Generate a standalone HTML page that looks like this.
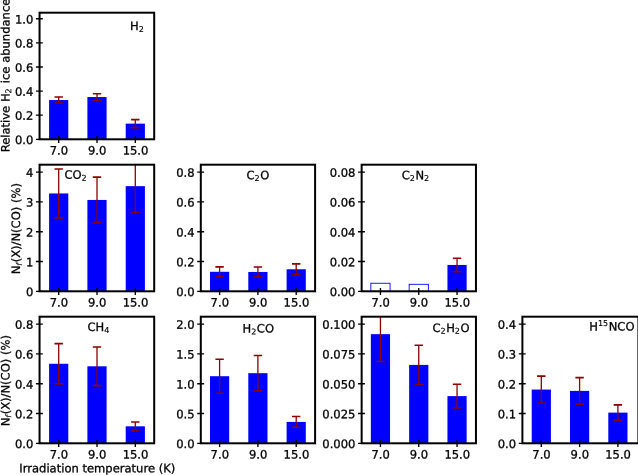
<!DOCTYPE html>
<html><head><meta charset="utf-8"><title>Ice abundances vs irradiation temperature</title>
<style>html,body{margin:0;padding:0;background:#fff}svg{display:block}text{stroke:#000;stroke-width:0.3px}</style></head>
<body>
<svg width="638" height="475" viewBox="0 0 638 475" font-family="'DejaVu Sans', 'Liberation Sans', sans-serif" font-size="11.55" fill="#000">
<rect width="638" height="475" fill="#fff"/>
<g id="ax0">
<clipPath id="cp0"><rect x="39.55" y="12.7" width="114.65" height="126.6"/></clipPath>
<g clip-path="url(#cp0)">
<rect x="49.10" y="100.05" width="19.2" height="39.25" fill="#0000ff"/>
<rect x="87.40" y="97.04" width="19.2" height="42.26" fill="#0000ff"/>
<rect x="125.70" y="123.63" width="19.2" height="15.67" fill="#0000ff"/>
<path d="M58.70 97.04V103.07" stroke="#8b0000" stroke-width="1.3" fill="none"/>
<path d="M54.50 97.04h8.4M54.50 103.07h8.4" stroke="#8b0000" stroke-width="1.6" fill="none"/>
<path d="M97.00 93.78V100.30" stroke="#8b0000" stroke-width="1.3" fill="none"/>
<path d="M92.80 93.78h8.4M92.80 100.30h8.4" stroke="#8b0000" stroke-width="1.6" fill="none"/>
<path d="M135.30 119.59V127.66" stroke="#8b0000" stroke-width="1.3" fill="none"/>
<path d="M131.10 119.59h8.4M131.10 127.66h8.4" stroke="#8b0000" stroke-width="1.6" fill="none"/>
</g>
<path d="M58.70 136.00V142.90M97.00 136.00V142.90M135.30 136.00V142.90M35.95 139.30H42.85M35.95 115.19H42.85M35.95 91.07H42.85M35.95 66.96H42.85M35.95 42.84H42.85M35.95 18.73H42.85" stroke="#000" stroke-width="1.35" fill="none"/>
<rect x="39.55" y="12.7" width="114.65" height="126.6" fill="none" stroke="#000" stroke-width="2.0"/>
<text x="58.90" y="154.40" text-anchor="middle" transform="rotate(0.03 58.90 154.40)">7.0</text>
<text x="97.20" y="154.40" text-anchor="middle" transform="rotate(0.03 97.20 154.40)">9.0</text>
<text x="135.50" y="154.40" text-anchor="middle" transform="rotate(0.03 135.50 154.40)">15.0</text>
<text x="33.25" y="144.00" text-anchor="end" transform="rotate(0.03 33.25 144.00)">0.0</text>
<text x="33.25" y="119.89" text-anchor="end" transform="rotate(0.03 33.25 119.89)">0.2</text>
<text x="33.25" y="95.77" text-anchor="end" transform="rotate(0.03 33.25 95.77)">0.4</text>
<text x="33.25" y="71.66" text-anchor="end" transform="rotate(0.03 33.25 71.66)">0.6</text>
<text x="33.25" y="47.54" text-anchor="end" transform="rotate(0.03 33.25 47.54)">0.8</text>
<text x="33.25" y="23.43" text-anchor="end" transform="rotate(0.03 33.25 23.43)">1.0</text>
<text x="136.90" y="30.10" text-anchor="middle" transform="rotate(0.03 136.90 30.10)"><tspan dx="0" dy="0.00" font-size="11.55">H</tspan><tspan dx="0" dy="1.85" font-size="8.09" style="stroke-width:0.12px">2</tspan></text>
</g>
<g id="ax1">
<clipPath id="cp1"><rect x="39.55" y="164.7" width="114.65" height="126.6"/></clipPath>
<g clip-path="url(#cp1)">
<rect x="49.10" y="193.45" width="19.2" height="97.85" fill="#0000ff"/>
<rect x="87.40" y="199.94" width="19.2" height="91.36" fill="#0000ff"/>
<rect x="125.70" y="186.15" width="19.2" height="105.15" fill="#0000ff"/>
<path d="M58.70 169.02V217.87" stroke="#8b0000" stroke-width="1.3" fill="none"/>
<path d="M54.50 169.02h8.4M54.50 217.87h8.4" stroke="#8b0000" stroke-width="1.6" fill="none"/>
<path d="M97.00 177.15V222.73" stroke="#8b0000" stroke-width="1.3" fill="none"/>
<path d="M92.80 177.15h8.4M92.80 222.73h8.4" stroke="#8b0000" stroke-width="1.6" fill="none"/>
<path d="M135.30 159.64V212.66" stroke="#8b0000" stroke-width="1.3" fill="none"/>
<path d="M131.10 159.64h8.4M131.10 212.66h8.4" stroke="#8b0000" stroke-width="1.6" fill="none"/>
</g>
<path d="M58.70 288.00V294.90M97.00 288.00V294.90M135.30 288.00V294.90M35.95 291.30H42.85M35.95 261.51H42.85M35.95 231.72H42.85M35.95 201.94H42.85M35.95 172.15H42.85" stroke="#000" stroke-width="1.35" fill="none"/>
<rect x="39.55" y="164.7" width="114.65" height="126.6" fill="none" stroke="#000" stroke-width="2.0"/>
<text x="58.90" y="306.40" text-anchor="middle" transform="rotate(0.03 58.90 306.40)">7.0</text>
<text x="97.20" y="306.40" text-anchor="middle" transform="rotate(0.03 97.20 306.40)">9.0</text>
<text x="135.50" y="306.40" text-anchor="middle" transform="rotate(0.03 135.50 306.40)">15.0</text>
<text x="33.25" y="296.00" text-anchor="end" transform="rotate(0.03 33.25 296.00)">0</text>
<text x="33.25" y="266.21" text-anchor="end" transform="rotate(0.03 33.25 266.21)">1</text>
<text x="33.25" y="236.42" text-anchor="end" transform="rotate(0.03 33.25 236.42)">2</text>
<text x="33.25" y="206.64" text-anchor="end" transform="rotate(0.03 33.25 206.64)">3</text>
<text x="33.25" y="176.85" text-anchor="end" transform="rotate(0.03 33.25 176.85)">4</text>
<text x="75.60" y="178.80" text-anchor="middle" transform="rotate(0.03 75.60 178.80)"><tspan dx="0" dy="0.00" font-size="11.55">CO</tspan><tspan dx="0" dy="1.85" font-size="8.09" style="stroke-width:0.12px">2</tspan></text>
</g>
<g id="ax2">
<clipPath id="cp2"><rect x="200.8" y="164.7" width="114.3" height="126.6"/></clipPath>
<g clip-path="url(#cp2)">
<rect x="210.00" y="271.79" width="19.2" height="19.51" fill="#0000ff"/>
<rect x="248.30" y="271.94" width="19.2" height="19.36" fill="#0000ff"/>
<rect x="286.60" y="269.26" width="19.2" height="22.04" fill="#0000ff"/>
<path d="M219.60 266.87V276.70" stroke="#8b0000" stroke-width="1.3" fill="none"/>
<path d="M215.40 266.87h8.4M215.40 276.70h8.4" stroke="#8b0000" stroke-width="1.6" fill="none"/>
<path d="M257.90 267.02V276.85" stroke="#8b0000" stroke-width="1.3" fill="none"/>
<path d="M253.70 267.02h8.4M253.70 276.85h8.4" stroke="#8b0000" stroke-width="1.6" fill="none"/>
<path d="M296.20 263.89V274.62" stroke="#8b0000" stroke-width="1.3" fill="none"/>
<path d="M292.00 263.89h8.4M292.00 274.62h8.4" stroke="#8b0000" stroke-width="1.6" fill="none"/>
</g>
<path d="M219.60 288.00V294.90M257.90 288.00V294.90M296.20 288.00V294.90M197.20 291.30H204.10M197.20 261.51H204.10M197.20 231.72H204.10M197.20 201.94H204.10M197.20 172.15H204.10" stroke="#000" stroke-width="1.35" fill="none"/>
<rect x="200.8" y="164.7" width="114.3" height="126.6" fill="none" stroke="#000" stroke-width="2.0"/>
<text x="219.80" y="306.40" text-anchor="middle" transform="rotate(0.03 219.80 306.40)">7.0</text>
<text x="258.10" y="306.40" text-anchor="middle" transform="rotate(0.03 258.10 306.40)">9.0</text>
<text x="296.40" y="306.40" text-anchor="middle" transform="rotate(0.03 296.40 306.40)">15.0</text>
<text x="194.50" y="296.00" text-anchor="end" transform="rotate(0.03 194.50 296.00)">0.0</text>
<text x="194.50" y="266.21" text-anchor="end" transform="rotate(0.03 194.50 266.21)">0.2</text>
<text x="194.50" y="236.42" text-anchor="end" transform="rotate(0.03 194.50 236.42)">0.4</text>
<text x="194.50" y="206.64" text-anchor="end" transform="rotate(0.03 194.50 206.64)">0.6</text>
<text x="194.50" y="176.85" text-anchor="end" transform="rotate(0.03 194.50 176.85)">0.8</text>
<text x="257.90" y="179.20" text-anchor="middle" transform="rotate(0.03 257.90 179.20)"><tspan dx="0" dy="0.00" font-size="11.55">C</tspan><tspan dx="0" dy="1.85" font-size="8.09" style="stroke-width:0.12px">2</tspan><tspan dx="0.45" dy="-1.85" font-size="11.55">O</tspan></text>
</g>
<g id="ax3">
<clipPath id="cp3"><rect x="361.65" y="164.7" width="114.3" height="126.6"/></clipPath>
<g clip-path="url(#cp3)">
<rect x="370.85" y="283.26" width="19.2" height="8.04" fill="#fff" stroke="#0000ff" stroke-width="0.9"/>
<rect x="409.15" y="284.30" width="19.2" height="7.00" fill="#fff" stroke="#0000ff" stroke-width="0.9"/>
<rect x="447.45" y="264.94" width="19.2" height="26.36" fill="#0000ff"/>
<path d="M457.05 258.24V271.64" stroke="#8b0000" stroke-width="1.3" fill="none"/>
<path d="M452.85 258.24h8.4M452.85 271.64h8.4" stroke="#8b0000" stroke-width="1.6" fill="none"/>
</g>
<path d="M380.45 288.00V294.90M418.75 288.00V294.90M457.05 288.00V294.90M358.05 291.30H364.95M358.05 261.51H364.95M358.05 231.72H364.95M358.05 201.94H364.95M358.05 172.15H364.95" stroke="#000" stroke-width="1.35" fill="none"/>
<rect x="361.65" y="164.7" width="114.3" height="126.6" fill="none" stroke="#000" stroke-width="2.0"/>
<text x="380.65" y="306.40" text-anchor="middle" transform="rotate(0.03 380.65 306.40)">7.0</text>
<text x="418.95" y="306.40" text-anchor="middle" transform="rotate(0.03 418.95 306.40)">9.0</text>
<text x="457.25" y="306.40" text-anchor="middle" transform="rotate(0.03 457.25 306.40)">15.0</text>
<text x="355.35" y="296.00" text-anchor="end" transform="rotate(0.03 355.35 296.00)">0.00</text>
<text x="355.35" y="266.21" text-anchor="end" transform="rotate(0.03 355.35 266.21)">0.02</text>
<text x="355.35" y="236.42" text-anchor="end" transform="rotate(0.03 355.35 236.42)">0.04</text>
<text x="355.35" y="206.64" text-anchor="end" transform="rotate(0.03 355.35 206.64)">0.06</text>
<text x="355.35" y="176.85" text-anchor="end" transform="rotate(0.03 355.35 176.85)">0.08</text>
<text x="415.50" y="179.20" text-anchor="middle" transform="rotate(0.03 415.50 179.20)"><tspan dx="0" dy="0.00" font-size="11.55">C</tspan><tspan dx="0" dy="1.85" font-size="8.09" style="stroke-width:0.12px">2</tspan><tspan dx="0.45" dy="-1.85" font-size="11.55">N</tspan><tspan dx="0" dy="1.85" font-size="8.09" style="stroke-width:0.12px">2</tspan></text>
</g>
<g id="ax4">
<clipPath id="cp4"><rect x="39.55" y="316.7" width="114.65" height="126.6"/></clipPath>
<g clip-path="url(#cp4)">
<rect x="49.10" y="363.77" width="19.2" height="79.53" fill="#0000ff"/>
<rect x="87.40" y="366.30" width="19.2" height="77.00" fill="#0000ff"/>
<rect x="125.70" y="426.32" width="19.2" height="16.98" fill="#0000ff"/>
<path d="M58.70 343.66V383.87" stroke="#8b0000" stroke-width="1.3" fill="none"/>
<path d="M54.50 343.66h8.4M54.50 383.87h8.4" stroke="#8b0000" stroke-width="1.6" fill="none"/>
<path d="M97.00 346.94V385.66" stroke="#8b0000" stroke-width="1.3" fill="none"/>
<path d="M92.80 346.94h8.4M92.80 385.66h8.4" stroke="#8b0000" stroke-width="1.6" fill="none"/>
<path d="M135.30 422.00V430.64" stroke="#8b0000" stroke-width="1.3" fill="none"/>
<path d="M131.10 422.00h8.4M131.10 430.64h8.4" stroke="#8b0000" stroke-width="1.6" fill="none"/>
</g>
<path d="M58.70 440.00V446.90M97.00 440.00V446.90M135.30 440.00V446.90M35.95 443.30H42.85M35.95 413.51H42.85M35.95 383.72H42.85M35.95 353.94H42.85M35.95 324.15H42.85" stroke="#000" stroke-width="1.35" fill="none"/>
<rect x="39.55" y="316.7" width="114.65" height="126.6" fill="none" stroke="#000" stroke-width="2.0"/>
<text x="58.90" y="458.40" text-anchor="middle" transform="rotate(0.03 58.90 458.40)">7.0</text>
<text x="97.20" y="458.40" text-anchor="middle" transform="rotate(0.03 97.20 458.40)">9.0</text>
<text x="135.50" y="458.40" text-anchor="middle" transform="rotate(0.03 135.50 458.40)">15.0</text>
<text x="33.25" y="448.00" text-anchor="end" transform="rotate(0.03 33.25 448.00)">0.0</text>
<text x="33.25" y="418.21" text-anchor="end" transform="rotate(0.03 33.25 418.21)">0.2</text>
<text x="33.25" y="388.42" text-anchor="end" transform="rotate(0.03 33.25 388.42)">0.4</text>
<text x="33.25" y="358.64" text-anchor="end" transform="rotate(0.03 33.25 358.64)">0.6</text>
<text x="33.25" y="328.85" text-anchor="end" transform="rotate(0.03 33.25 328.85)">0.8</text>
<text x="98.40" y="331.10" text-anchor="middle" transform="rotate(0.03 98.40 331.10)"><tspan dx="0" dy="0.00" font-size="11.55">CH</tspan><tspan dx="0" dy="1.85" font-size="8.09" style="stroke-width:0.12px">4</tspan></text>
</g>
<g id="ax5">
<clipPath id="cp5"><rect x="200.8" y="316.7" width="114.3" height="126.6"/></clipPath>
<g clip-path="url(#cp5)">
<rect x="210.00" y="376.22" width="19.2" height="67.08" fill="#0000ff"/>
<rect x="248.30" y="373.18" width="19.2" height="70.12" fill="#0000ff"/>
<rect x="286.60" y="421.91" width="19.2" height="21.39" fill="#0000ff"/>
<path d="M219.60 359.24V393.20" stroke="#8b0000" stroke-width="1.3" fill="none"/>
<path d="M215.40 359.24h8.4M215.40 393.20h8.4" stroke="#8b0000" stroke-width="1.6" fill="none"/>
<path d="M257.90 355.54V390.81" stroke="#8b0000" stroke-width="1.3" fill="none"/>
<path d="M253.70 355.54h8.4M253.70 390.81h8.4" stroke="#8b0000" stroke-width="1.6" fill="none"/>
<path d="M296.20 416.55V427.27" stroke="#8b0000" stroke-width="1.3" fill="none"/>
<path d="M292.00 416.55h8.4M292.00 427.27h8.4" stroke="#8b0000" stroke-width="1.6" fill="none"/>
</g>
<path d="M219.60 440.00V446.90M257.90 440.00V446.90M296.20 440.00V446.90M197.20 443.30H204.10M197.20 413.51H204.10M197.20 383.72H204.10M197.20 353.94H204.10M197.20 324.15H204.10" stroke="#000" stroke-width="1.35" fill="none"/>
<rect x="200.8" y="316.7" width="114.3" height="126.6" fill="none" stroke="#000" stroke-width="2.0"/>
<text x="219.80" y="458.40" text-anchor="middle" transform="rotate(0.03 219.80 458.40)">7.0</text>
<text x="258.10" y="458.40" text-anchor="middle" transform="rotate(0.03 258.10 458.40)">9.0</text>
<text x="296.40" y="458.40" text-anchor="middle" transform="rotate(0.03 296.40 458.40)">15.0</text>
<text x="194.50" y="448.00" text-anchor="end" transform="rotate(0.03 194.50 448.00)">0.0</text>
<text x="194.50" y="418.21" text-anchor="end" transform="rotate(0.03 194.50 418.21)">0.5</text>
<text x="194.50" y="388.42" text-anchor="end" transform="rotate(0.03 194.50 388.42)">1.0</text>
<text x="194.50" y="358.64" text-anchor="end" transform="rotate(0.03 194.50 358.64)">1.5</text>
<text x="194.50" y="328.85" text-anchor="end" transform="rotate(0.03 194.50 328.85)">2.0</text>
<text x="258.30" y="332.60" text-anchor="middle" transform="rotate(0.03 258.30 332.60)"><tspan dx="0" dy="0.00" font-size="11.55">H</tspan><tspan dx="0" dy="1.85" font-size="8.09" style="stroke-width:0.12px">2</tspan><tspan dx="0.45" dy="-1.85" font-size="11.55">CO</tspan></text>
</g>
<g id="ax6">
<clipPath id="cp6"><rect x="361.65" y="316.7" width="114.3" height="126.6"/></clipPath>
<g clip-path="url(#cp6)">
<rect x="370.85" y="334.16" width="19.2" height="109.14" fill="#0000ff"/>
<rect x="409.15" y="364.90" width="19.2" height="78.40" fill="#0000ff"/>
<rect x="447.45" y="396.12" width="19.2" height="47.18" fill="#0000ff"/>
<path d="M380.45 306.87V361.44" stroke="#8b0000" stroke-width="1.3" fill="none"/>
<path d="M376.25 306.87h8.4M376.25 361.44h8.4" stroke="#8b0000" stroke-width="1.6" fill="none"/>
<path d="M418.75 345.24V384.56" stroke="#8b0000" stroke-width="1.3" fill="none"/>
<path d="M414.55 345.24h8.4M414.55 384.56h8.4" stroke="#8b0000" stroke-width="1.6" fill="none"/>
<path d="M457.05 384.20V408.03" stroke="#8b0000" stroke-width="1.3" fill="none"/>
<path d="M452.85 384.20h8.4M452.85 408.03h8.4" stroke="#8b0000" stroke-width="1.6" fill="none"/>
</g>
<path d="M380.45 440.00V446.90M418.75 440.00V446.90M457.05 440.00V446.90M358.05 443.30H364.95M358.05 413.51H364.95M358.05 383.72H364.95M358.05 353.94H364.95M358.05 324.15H364.95" stroke="#000" stroke-width="1.35" fill="none"/>
<rect x="361.65" y="316.7" width="114.3" height="126.6" fill="none" stroke="#000" stroke-width="2.0"/>
<text x="380.65" y="458.40" text-anchor="middle" transform="rotate(0.03 380.65 458.40)">7.0</text>
<text x="418.95" y="458.40" text-anchor="middle" transform="rotate(0.03 418.95 458.40)">9.0</text>
<text x="457.25" y="458.40" text-anchor="middle" transform="rotate(0.03 457.25 458.40)">15.0</text>
<text x="355.35" y="448.00" text-anchor="end" transform="rotate(0.03 355.35 448.00)">0.000</text>
<text x="355.35" y="418.21" text-anchor="end" transform="rotate(0.03 355.35 418.21)">0.025</text>
<text x="355.35" y="388.42" text-anchor="end" transform="rotate(0.03 355.35 388.42)">0.050</text>
<text x="355.35" y="358.64" text-anchor="end" transform="rotate(0.03 355.35 358.64)">0.075</text>
<text x="355.35" y="328.85" text-anchor="end" transform="rotate(0.03 355.35 328.85)">0.100</text>
<text x="451.00" y="332.00" text-anchor="middle" transform="rotate(0.03 451.00 332.00)"><tspan dx="0" dy="0.00" font-size="11.55">C</tspan><tspan dx="0" dy="1.85" font-size="8.09" style="stroke-width:0.12px">2</tspan><tspan dx="0.45" dy="-1.85" font-size="11.55">H</tspan><tspan dx="0" dy="1.85" font-size="8.09" style="stroke-width:0.12px">2</tspan><tspan dx="0.45" dy="-1.85" font-size="11.55">O</tspan></text>
</g>
<g id="ax7">
<clipPath id="cp7"><rect x="522.4" y="316.7" width="116" height="126.6"/></clipPath>
<g clip-path="url(#cp7)">
<rect x="531.70" y="389.56" width="19.2" height="53.74" fill="#0000ff"/>
<rect x="570.00" y="390.87" width="19.2" height="52.43" fill="#0000ff"/>
<rect x="608.30" y="412.62" width="19.2" height="30.68" fill="#0000ff"/>
<path d="M541.30 376.16V402.97" stroke="#8b0000" stroke-width="1.3" fill="none"/>
<path d="M537.10 376.16h8.4M537.10 402.97h8.4" stroke="#8b0000" stroke-width="1.6" fill="none"/>
<path d="M579.60 377.62V404.13" stroke="#8b0000" stroke-width="1.3" fill="none"/>
<path d="M575.40 377.62h8.4M575.40 404.13h8.4" stroke="#8b0000" stroke-width="1.6" fill="none"/>
<path d="M617.90 404.87V420.36" stroke="#8b0000" stroke-width="1.3" fill="none"/>
<path d="M613.70 404.87h8.4M613.70 420.36h8.4" stroke="#8b0000" stroke-width="1.6" fill="none"/>
</g>
<path d="M541.30 440.00V446.90M579.60 440.00V446.90M617.90 440.00V446.90M518.80 443.30H525.70M518.80 413.51H525.70M518.80 383.72H525.70M518.80 353.94H525.70M518.80 324.15H525.70" stroke="#000" stroke-width="1.35" fill="none"/>
<rect x="522.4" y="316.7" width="116" height="126.6" fill="none" stroke="#000" stroke-width="2.0"/>
<text x="541.50" y="458.40" text-anchor="middle" transform="rotate(0.03 541.50 458.40)">7.0</text>
<text x="579.80" y="458.40" text-anchor="middle" transform="rotate(0.03 579.80 458.40)">9.0</text>
<text x="618.10" y="458.40" text-anchor="middle" transform="rotate(0.03 618.10 458.40)">15.0</text>
<text x="516.10" y="448.00" text-anchor="end" transform="rotate(0.03 516.10 448.00)">0.0</text>
<text x="516.10" y="418.21" text-anchor="end" transform="rotate(0.03 516.10 418.21)">0.1</text>
<text x="516.10" y="388.42" text-anchor="end" transform="rotate(0.03 516.10 388.42)">0.2</text>
<text x="516.10" y="358.64" text-anchor="end" transform="rotate(0.03 516.10 358.64)">0.3</text>
<text x="516.10" y="328.85" text-anchor="end" transform="rotate(0.03 516.10 328.85)">0.4</text>
<text x="611.90" y="330.60" text-anchor="middle" transform="rotate(0.03 611.90 330.60)"><tspan dx="0" dy="0.00" font-size="11.55">H</tspan><tspan dx="0" dy="-4.62" font-size="8.09" style="stroke-width:0.12px">15</tspan><tspan dx="0.45" dy="4.62" font-size="11.55">NCO</tspan></text>
</g>
<text x="97.30" y="472.20" text-anchor="middle" transform="rotate(0.03 97.30 472.20)">Irradiation temperature (K)</text>
<text transform="translate(9.5 75.5) rotate(-89.97)" text-anchor="middle"><tspan dx="0" dy="0.00" font-size="11.55">Relative H</tspan><tspan dx="0" dy="1.85" font-size="8.09" style="stroke-width:0.12px">2</tspan><tspan dx="1.4" dy="-1.85" font-size="11.55"> ice abundance</tspan></text>
<text transform="translate(20.1 228.7) rotate(-89.97)" text-anchor="middle"><tspan dx="0" dy="0.00" font-size="11.55">N</tspan><tspan dx="0" dy="1.85" font-size="8.09" font-style="italic" style="stroke-width:0.12px">f</tspan><tspan dx="0.45" dy="-1.85" font-size="11.55">(X)/N(CO) (%)</tspan></text>
<text transform="translate(9.5 380.7) rotate(-89.97)" text-anchor="middle"><tspan dx="0" dy="0.00" font-size="11.55">N</tspan><tspan dx="0" dy="1.85" font-size="8.09" font-style="italic" style="stroke-width:0.12px">f</tspan><tspan dx="0.45" dy="-1.85" font-size="11.55">(X)/N(CO) (%)</tspan></text>
</svg>
</body></html>
